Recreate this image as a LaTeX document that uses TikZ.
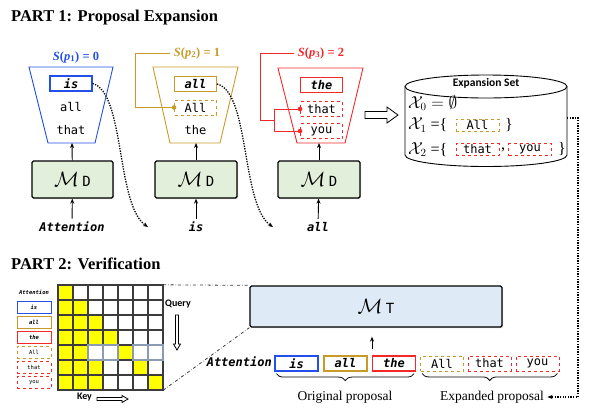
\documentclass[tikz,border=0pt]{standalone}
\usepackage{fontspec}
\setmainfont{Liberation Serif}
\setmonofont{DejaVu Sans Mono}
\newfontfamily\labelfont{Carlito}
\usepackage{amssymb}
\usetikzlibrary{shadows,decorations.pathreplacing,arrows.meta}
\definecolor{pblue}{RGB}{35,80,235}
\definecolor{pgold}{RGB}{200,155,40}
\definecolor{pred}{RGB}{245,40,40}
\definecolor{mdgreen}{RGB}{226,239,218}
\definecolor{mtblue}{RGB}{222,235,247}
\definecolor{cellyel}{RGB}{255,255,0}
\definecolor{cellgray}{RGB}{60,60,60}
\definecolor{lightgrid}{RGB}{140,155,180}
\newcommand{\model}[1]{$\mathcal{M}$\,{\fontsize{14}{14}\ttfamily #1}}
\newcommand{\scoreof}[2]{\textit{S}(\textit{p}\textsubscript{#1}) = #2}

\begin{document}
\begin{tikzpicture}[x=1pt, y=-1pt,
    tok/.style={inner sep=0, minimum width=42, minimum height=15, font=\fontsize{12}{12}\ttfamily},
    prop/.style={tok, draw, line width=1.1pt, font=\fontsize{12}{12}\ttfamily\bfseries\itshape},
    cand/.style={tok, draw, dashed, line width=0.9pt},
    smallcand/.style={cand, minimum width=43, minimum height=12, font=\fontsize{12}{12}\ttfamily},
    trap/.style={line width=0.9pt},
    score/.style={font=\fontsize{12.5}{12.5}\selectfont\bfseries},
    model/.style={draw, line width=1.3pt, rounded corners=1.5pt, drop shadow={shadow xshift=1.2pt, shadow yshift=-1.2pt, opacity=0.35}, font=\fontsize{20}{20}\selectfont},
    word/.style={font=\fontsize{12}{12}\ttfamily\bfseries\itshape},
    uparr/.style={-{Stealth[length=5pt,width=4pt]}, line width=0.9pt},
    hop/.style={dash pattern=on 1.3pt off 1.3pt, line width=1.3pt, -{Stealth[length=5pt,width=4pt]}},
    hollow/.style={draw, fill=white, line width=0.8pt, line join=miter},
    minitok/.style={inner sep=0, minimum width=34, minimum height=12, line width=0.8pt, font=\fontsize{5.5}{5.5}\ttfamily},
    gridcell/.style={draw=cellgray, line width=1.2pt},
    caption/.style={font=\fontsize{13.5}{13.5}\selectfont},
    keytext/.style={font=\fontsize{10}{10}\labelfont\bfseries},
    setrow/.style={anchor=west, inner sep=0, font=\fontsize{16}{16}\selectfont},
  ]
  \useasboundingbox (0,0) rectangle (597,416);

  \node[anchor=base west, inner sep=0, font=\fontsize{16.5}{16.5}\selectfont\bfseries] (part1) at (11,21.5) {PART 1: Proposal Expansion};
  \node[anchor=base west, inner sep=0, font=\fontsize{16.5}{16.5}\selectfont\bfseries] (part2) at (11,269) {PART 2: Verification};

  \draw[trap, pblue] (29,67) -- (113,67) -- (95,143) -- (48,143) -- cycle;
  \draw[trap, pgold] (153,67) -- (238,67) -- (220,143) -- (170,143) -- cycle;
  \draw[trap, pred] (278,68) -- (363,68) -- (345,143) -- (297,143) -- cycle;
  \coordinate (t1) at (72,143);
  \coordinate (t2) at (196,143);
  \coordinate (t3) at (319,143);

  \node[score, text=pblue] (s1) at (76,57) {\scoreof{1}{0}};
  \node[score, text=pgold] (s2) at (197,53) {\scoreof{2}{1}};
  \node[score, text=pred] (s3) at (321,53) {\scoreof{3}{2}};

  \node[prop, draw=pblue] (is1) at (71,83.5) {is};
  \node[tok] (al1) at (71,107) {all};
  \node[tok] (th1) at (71,130) {that};

  \node[prop, draw=pgold] (al2) at (195.5,84) {all};
  \node[cand, draw=pgold] (ex2) at (195.5,107.5) {All};
  \node[tok] (th2) at (195.5,130) {the};

  \node[prop, draw=pred] (th3) at (321.5,85) {the};
  \node[cand, draw=pred] (ex3) at (321.5,109) {that};
  \node[cand, draw=pred] (yo3) at (321.5,131) {you};

  \draw[pgold, line width=0.9pt] (s2.west) -| ([xshift=-39pt]ex2.west) -- (ex2.west);
  \fill[pgold] (ex2.west) circle (2.3);
  \draw[pred, line width=0.9pt] (s3.west) -| (260,120) -- (275,120);
  \draw[pred, line width=0.9pt] (ex3.west) -| ([xshift=-26pt]yo3.west) -- (yo3.west);
  \fill[pred] (ex3.west) circle (2.3);
  \fill[pred] (yo3.west) circle (2.3);

  \node[model, fill=mdgreen, minimum width=81, minimum height=37] (md1) at (72.5,179.5) {\model{D}};
  \node[model, fill=mdgreen, minimum width=82, minimum height=37] (md2) at (196,179.5) {\model{D}};
  \node[model, fill=mdgreen, minimum width=82, minimum height=37] (md3) at (319,179.5) {\model{D}};

  \node[word] (in1) at (72,227) {Attention};
  \node[word] (in2) at (196,227) {is};
  \node[word] (in3) at (318,227) {all};

  \foreach \i in {1,2,3} {
    \draw[uparr] (in\i) -- (md\i);
    \draw[uparr] (md\i) -- (t\i);
  }

  \coordinate (h2) at (148,227);
  \coordinate (h3) at (273,227);
  \draw[hop] (is1.east) .. controls (125,92) and (116,205) .. (h2);
  \draw[hop] (al2.east) .. controls (250,92) and (241,205) .. (h3);

  \draw[hollow] (365,111.5) -- (387,111.5) -- (387,107) -- (398,115) -- (387,123) -- (387,118.5) -- (365,118.5) -- cycle;

  \draw[line width=0.9pt] (486,86.5) ellipse [x radius=81, y radius=11.5];
  \draw[line width=0.9pt] (405,86.5) -- (405,155) arc[start angle=180, end angle=0, x radius=81, y radius=11.5] -- (567,86.5);
  \node[font=\fontsize{11.5}{11.5}\labelfont\bfseries] (es) at (486,83) {Expansion Set};
  \node[setrow] (x0) at (408,103) {$\mathcal{X}_0 = \emptyset$};
  \node[setrow] (x1) at (408,125) {$\mathcal{X}_1$ =\{};
  \node[smallcand, draw=pgold] (e1) at (477.5,125) {All};
  \node[setrow] (c1) at (505,125) {\}};
  \node[setrow] (x2) at (408,149.5) {$\mathcal{X}_2$ =\{};
  \node[smallcand, draw=pred] (e2) at (477.5,149.5) {that};
  \node[setrow] (cm) at (501,150) {,};
  \node[smallcand, draw=pred] (e3) at (530,149.5) {you};
  \node[setrow] (c2) at (558,149.5) {\}};
  \coordinate (esout) at (567,118);

  \foreach \r/\c in {0/0,1/0,1/1,2/0,2/1,2/2,3/0,3/1,3/2,3/3,4/0,4/1,4/4,5/0,5/1,5/2,5/5,6/0,6/1,6/2,6/6}
    \fill[cellyel] (58+15*\c,285+15*\r) rectangle ++(15,15);
  \foreach \r in {0,...,6}
    \foreach \c in {0,...,6}
      \draw[gridcell] (58+15*\c,285+15*\r) rectangle ++(15,15);
  \foreach \c in {2,3,5,6}
    \draw[gridcell, draw=lightgrid] (58+15*\c,345) rectangle ++(15,15);
  \node[minimum size=105, inner sep=0] (grid) at (110.5,337.5) {};

  \node[minitok, font=\fontsize{5.5}{5.5}\ttfamily\bfseries\itshape] (g0) at (34,292.5) {Attention};
  \node[minitok, draw=pblue, font=\fontsize{5.5}{5.5}\ttfamily\bfseries\itshape] (g1) at (34,307.5) {is};
  \node[minitok, draw=pgold, font=\fontsize{5.5}{5.5}\ttfamily\bfseries\itshape] (g2) at (34,322.5) {all};
  \node[minitok, draw=pred, font=\fontsize{5.5}{5.5}\ttfamily\bfseries\itshape] (g3) at (34,337.5) {the};
  \node[minitok, draw=pgold, dashed] (g4) at (34,352.5) {All};
  \node[minitok, draw=pred, dashed] (g5) at (34,367.5) {that};
  \node[minitok, draw=pred, dashed] (g6) at (34,382.5) {you};

  \node[keytext] (q) at (178,304) {Query};
  \draw[hollow] (175.5,315) -- (178.5,315) -- (178.5,344) -- (180.5,344) -- (177,350) -- (173.5,344) -- (175.5,344) -- cycle;
  \node[keytext] (k) at (84.5,397) {Key};
  \draw[hollow] (97,397.5) -- (122,397.5) -- (122,395.5) -- (128,399) -- (122,402.5) -- (122,400.5) -- (97,400.5) -- cycle;

  \node[model, fill=mtblue, minimum width=252, minimum height=41] (mt) at (376,306.5) {\model{T}};
  \draw[dash dot, cellgray, line width=0.8pt] (grid.north east) -- (mt.north west);
  \draw[dash dot, cellgray, line width=0.8pt] (grid.south east) -- (mt.south west);

  \node[word, anchor=east, inner sep=1pt] (att) at (273,362) {Attention};
  \node[prop, draw=pblue, minimum width=43] (ob1) at (296.5,363.5) {is};
  \node[prop, draw=pgold, minimum width=43] (ob2) at (345.5,363.5) {all};
  \node[prop, draw=pred, minimum width=43] (ob3) at (394,363.5) {the};
  \node[cand, draw=pgold, minimum width=43] (xb1) at (442,363.5) {All};
  \node[cand, draw=pred, minimum width=43] (xb2) at (489.5,363.5) {that};
  \node[cand, draw=pred, minimum width=43] (xb3) at (537.5,363.5) {you};
  \draw[uparr] ([xshift=-4pt,yshift=-21pt]mt.south) -- ([xshift=-4pt,yshift=-9pt]mt.south);

  \draw[decorate, decoration={brace, mirror, amplitude=7pt}, line width=0.8pt] ([xshift=2pt,yshift=-2pt]ob1.south west) -- ([xshift=-2pt,yshift=-2pt]ob3.south east);
  \draw[decorate, decoration={brace, mirror, amplitude=7pt}, line width=0.8pt] ([xshift=2pt,yshift=-2pt]xb1.south west) -- ([xshift=-2pt,yshift=-2pt]xb3.south east);
  \node[caption] (op) at (345,397) {Original proposal};
  \node[caption] (ep) at (492,397) {Expanded proposal};

  \draw[hop] (esout) -- ++(11,0) |- (ep.east);
\end{tikzpicture}
\end{document}
